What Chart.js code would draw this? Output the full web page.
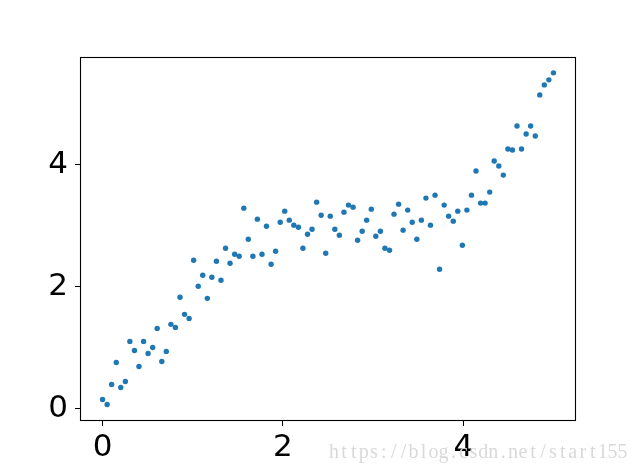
<!DOCTYPE html>
<html>
<head>
<meta charset="utf-8">
<script src="https://cdn.jsdelivr.net/npm/chart.js@4/dist/chart.umd.min.js"></script>
<style>
  html, body { margin: 0; padding: 0; background: #fff; }
  canvas { display: block; }
</style>
</head>
<body>
<canvas id="chart" width="640" height="473"></canvas>
<script>
// sample positions along x (100 evenly spaced samples from 0 to 5)
const xValues = [
  0.000, 0.051, 0.101, 0.152, 0.202, 0.253, 0.303, 0.354, 0.404, 0.455,
  0.505, 0.556, 0.606, 0.657, 0.707, 0.758, 0.808, 0.859, 0.909, 0.960,
  1.010, 1.061, 1.111, 1.162, 1.212, 1.263, 1.313, 1.364, 1.414, 1.465,
  1.515, 1.566, 1.616, 1.667, 1.717, 1.768, 1.818, 1.869, 1.919, 1.970,
  2.020, 2.071, 2.121, 2.172, 2.222, 2.273, 2.323, 2.374, 2.424, 2.475,
  2.525, 2.576, 2.626, 2.677, 2.727, 2.778, 2.828, 2.879, 2.929, 2.980,
  3.030, 3.081, 3.131, 3.182, 3.232, 3.283, 3.333, 3.384, 3.434, 3.485,
  3.535, 3.586, 3.636, 3.687, 3.737, 3.788, 3.838, 3.889, 3.939, 3.990,
  4.040, 4.091, 4.141, 4.192, 4.242, 4.293, 4.343, 4.394, 4.444, 4.495,
  4.545, 4.596, 4.646, 4.697, 4.747, 4.798, 4.848, 4.899, 4.949, 5.000
];

// noisy y values
const yValues = [
  0.148, 0.066, 0.395, 0.757, 0.345, 0.444, 1.102, 0.954, 0.691, 1.102,
  0.905, 1.003, 1.316, 0.773, 0.938, 1.382, 1.332, 1.826, 1.546, 1.480,
  2.434, 2.007, 2.188, 1.809, 2.155, 2.418, 2.105, 2.632, 2.385, 2.533,
  2.500, 3.289, 2.780, 2.500, 3.109, 2.533, 2.993, 2.368, 2.582, 3.059,
  3.240, 3.092, 3.010, 2.977, 2.632, 2.862, 2.944, 3.388, 3.174, 2.549,
  3.158, 2.944, 2.845, 3.224, 3.339, 3.306, 2.763, 2.911, 3.092, 3.273,
  2.829, 2.911, 2.632, 2.599, 3.191, 3.355, 2.928, 3.257, 3.059, 2.780,
  3.092, 3.454, 3.010, 3.503, 2.286, 3.339, 3.158, 3.076, 3.240, 2.681,
  3.257, 3.503, 3.898, 3.372, 3.372, 3.553, 4.062, 3.980, 3.832, 4.260,
  4.243, 4.638, 4.260, 4.507, 4.638, 4.474, 5.148, 5.312, 5.395, 5.510
];

const xTicks = [0, 2, 4];
const yTicks = [0, 2, 4];

const watermark = 'https://blog.csdn.net/start155';

Chart.defaults.font.family = "'DejaVu Sans', sans-serif";
Chart.defaults.color = '#000';

// full box around the plot area, like matplotlib spines
const frameBox = {
  id: 'frameBox',
  afterDraw(chart) {
    const { ctx, chartArea: a } = chart;
    ctx.save();
    ctx.strokeStyle = '#000';
    ctx.lineWidth = 1.1;
    ctx.strokeRect(a.left + 0.5, a.top + 0.5, a.right - a.left - 1, a.bottom - a.top - 1);
    ctx.restore();
  }
};

// grey blog watermark in the bottom right corner
const stamp = {
  id: 'stamp',
  beforeDatasetsDraw(chart) {
    const ctx = chart.ctx;
    ctx.save();
    ctx.fillStyle = '#d9d9d9';
    ctx.font = "20px 'Liberation Serif', serif";
    ctx.textAlign = 'center';
    ctx.textBaseline = 'alphabetic';
    for (let i = 0; i < watermark.length; i++) {
      ctx.fillText(watermark[i], 329 + i * 9.95 + 5, 458);
    }
    ctx.restore();
  }
};

function fixedTicks(values) {
  return function(scale) {
    scale.ticks = values.map(v => ({ value: v }));
  };
}

new Chart(document.getElementById('chart'), {
  type: 'scatter',
  data: {
    datasets: [{
      data: xValues.map((x, i) => ({ x: x, y: yValues[i] })),
      backgroundColor: '#1f77b4',
      borderWidth: 0,
      pointRadius: 2.7,
      pointHoverRadius: 2.7
    }]
  },
  options: {
    responsive: false,
    animation: false,
    events: [],
    layout: { padding: { left: 0, right: 64, top: 57, bottom: 0 } },
    plugins: {
      legend: { display: false },
      tooltip: { enabled: false }
    },
    scales: {
      x: {
        type: 'linear',
        min: -0.25,
        max: 5.25,
        afterBuildTicks: fixedTicks(xTicks),
        afterFit(scale) { scale.height = 52; },
        border: { display: false },
        grid: {
          drawOnChartArea: false,
          drawTicks: true,
          tickLength: 5,
          color: '#000',
          lineWidth: 1
        },
        ticks: {
          font: { size: 31 },
          color: '#000',
          padding: 3,
          maxRotation: 0
        }
      },
      y: {
        type: 'linear',
        min: -0.204,
        max: 5.77,
        afterBuildTicks: fixedTicks(yTicks),
        afterFit(scale) { scale.width = 80; },
        border: { display: false },
        grid: {
          drawOnChartArea: false,
          drawTicks: true,
          tickLength: 5,
          color: '#000',
          lineWidth: 1
        },
        ticks: {
          font: { size: 31 },
          color: '#000',
          padding: 7
        }
      }
    }
  },
  plugins: [frameBox, stamp]
});
</script>
</body>
</html>
